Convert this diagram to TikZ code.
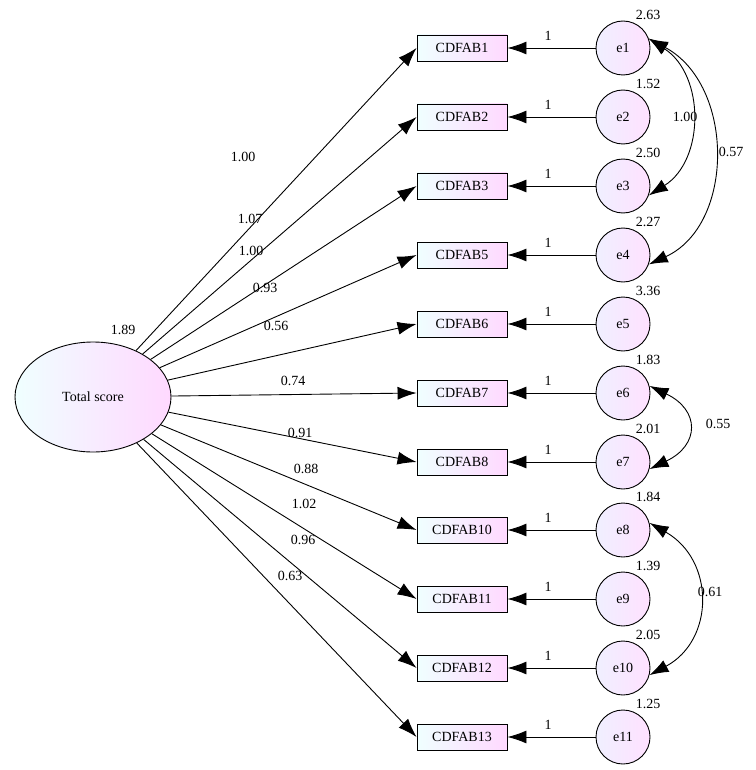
\documentclass[tikz,border=0pt]{standalone}
\usepackage{fontspec}
\setmainfont{Liberation Serif}
\usetikzlibrary{arrows.meta,shapes.geometric}
\begin{document}
\begin{tikzpicture}[x=1pt,y=-1pt,font=\fontsize{14}{16}\selectfont,line width=0.9pt,
  obs/.style={draw,rectangle,minimum width=90pt,minimum height=26pt,inner sep=0pt,left color=cyan!6,right color=magenta!15},
  err/.style={draw,circle,minimum size=54pt,inner sep=0pt,left color=blue!6,right color=magenta!12},
  arr/.style={-{Latex[length=19pt,width=13pt]}},
  cov/.style={{Latex[length=19pt,width=13pt]}-{Latex[length=19pt,width=13pt]}}]
  \useasboundingbox (0,0) rectangle (755,770);
  % latent factor
  \node[draw,ellipse,minimum width=156pt,minimum height=110pt,left color=cyan!6,right color=magenta!15] (ts) at (93,397) {Total score};
  \node at (123,330) {1.89};
  % indicators and errors
  \foreach \i/\lab/\y/\v [count=\n] in {
    1/CDFAB1/48/2.63, 2/CDFAB2/117/1.52, 3/CDFAB3/186/2.50,
    4/CDFAB5/255/2.27, 5/CDFAB6/324/3.36, 6/CDFAB7/393/1.83,
    7/CDFAB8/462/2.01, 8/CDFAB10/530/1.84, 9/CDFAB11/599/1.39,
    10/CDFAB12/668/2.05, 11/CDFAB13/737/1.25}{
    \node[obs] (b\i) at (462,\y) {\lab};
    \node[err] (e\i) at (623,\y) {e\i};
    \node at (648,\y-33) {\v};
    \draw[arr] (e\i) -- (b\i);
    \node at (548,\y-12) {1};
    \draw[arr] (ts) -- (b\i.west);
  }
  % loadings
  \node at (243,157) {1.00};
  \node at (250,219) {1.07};
  \node at (251,251) {1.00};
  \node at (265,288) {0.93};
  \node at (276,326) {0.56};
  \node at (293,381) {0.74};
  \node at (300,433) {0.91};
  \node at (306,469) {0.88};
  \node at (304,504) {1.02};
  \node at (303,540) {0.96};
  \node at (290,576) {0.63};
  % covariances
  \draw[cov] (e1.20) .. controls (705,75) and (705,160) .. (e3.-20);
  \draw[cov] (e1.20) .. controls (735,85) and (735,225) .. (e4.-20);
  \draw[cov] (e6.15) .. controls (700,410) and (700,445) .. (e7.-15);
  \draw[cov] (e8.15) .. controls (715,560) and (715,640) .. (e10.-15);
  \node at (685,117) {1.00};
  \node at (731,152) {0.57};
  \node at (718,424) {0.55};
  \node at (710,592) {0.61};
\end{tikzpicture}
\end{document}
